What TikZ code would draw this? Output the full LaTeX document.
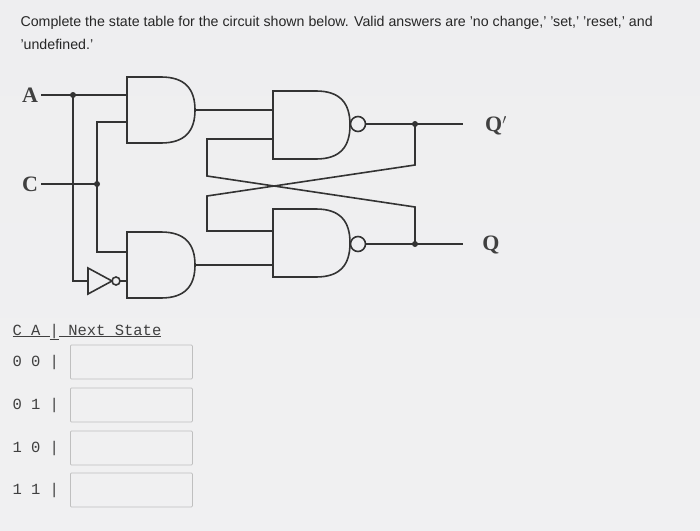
\documentclass[tikz,border=0pt]{standalone}
\usepackage{fontspec}
\setmainfont{Liberation Sans}
\newfontfamily\monof{Liberation Mono}
\newfontfamily\serifb{Liberation Serif}
\begin{document}
\begin{tikzpicture}[x=1pt,y=-1pt,
 wire/.style={draw=black!80,line width=1.6pt},
 gate/.style={draw=black!80,line width=1.6pt,fill=none},
 jdot/.style={circle,fill=black!80,inner sep=0pt,minimum size=6pt},
 lbl/.style={font=\serifb\bfseries\fontsize{22}{22}\selectfont,text=black!75},
 mono/.style={font=\monof\fontsize{15.5}{15.5}\selectfont,text=black!75,anchor=west},
 ansbox/.style={draw=black!25,line width=0.8pt,rounded corners=1pt,minimum width=122pt,minimum height=34pt,anchor=west}]
\useasboundingbox (0,0) rectangle (700,530);
\shade[top color=white!92!blue!40!gray!20, bottom color=white!90!blue!30!gray!15] (0,0) rectangle (700,530);
\node[anchor=west,font=\fontsize{14.2}{14.2}\selectfont,text=black!85] (t1) at (17,23) {Complete the state table for the circuit shown below. Valid answers are 'no change,' 'set,' 'reset,' and};
\node[anchor=west,font=\fontsize{14.2}{14.2}\selectfont,text=black!85] (t2) at (17,44) {'undefined.'};
% gates: x, y, height, width
\newcommand{\andg}[4]{\draw[gate] (#1,#2) -- (#1+#4-34,#2) .. controls (#1+#4-10,#2) and (#1+#4,#2+12) .. (#1+#4,#2+#3/2) .. controls (#1+#4,#2+#3-12) and (#1+#4-10,#2+#3) .. (#1+#4-34,#2+#3) -- (#1,#2+#3) -- cycle;}
\andg{127}{77}{66}{68}
\andg{127}{232}{66}{68}
\andg{273}{91}{68}{77}
\andg{273}{209}{68}{77}
\draw[gate] (358,124) circle (7.5);
\draw[gate] (358,244) circle (7.5);
% inverter
\draw[gate] (88,268) -- (112,281) -- (88,294) -- cycle;
\draw[gate] (116,281) circle (4);
% labels
\node[lbl] (A) at (30,95) {A};
\node[lbl] (C) at (30,184) {C};
\node[lbl] (Qp) at (496,126) {Q$'$};
\node[lbl] (Q) at (491,245) {Q};
\coordinate (dA) at (73,95);
\coordinate (dC) at (97,184);
\coordinate (dQp) at (415,124);
\coordinate (dQ) at (415,244);
\draw[wire] (A.east) -- (127,95);
\draw[wire] (dA) -- (73,281) -- (88,281);
\draw[wire] (120,281) -- (127,281);
\draw[wire] (C.east) -- (dC);
\draw[wire] (127,122) -- (97,122) -- (97,252) -- (127,252);
\draw[wire] (195,110) -- (273,110);
\draw[wire] (195,265) -- (273,265);
\draw[wire] (366,124) -- (463,124);
\draw[wire] (366,244) -- (463,244);
\draw[wire] (273,139) -- (207,139) -- (207,176) -- (415,207) -- (dQ);
\draw[wire] (dQp) -- (415,165) -- (207,196) -- (207,231) -- (273,231);
\foreach \p in {dA,dC,dQp,dQ} \node[jdot] at (\p) {};
% table
\node[mono] (h1) at (9,332) {\underline{C A }\underline{|}\underline{ Next State}};
\foreach \r/\a/\b [count=\i] in {362/0/0,405/0/1,448/1/0,490/1/1} {
 \node[mono] (r\i) at (9,\r) {\a{} \b{} |};
 \node[ansbox] (b\i) at (70,\r) {};
}
\end{tikzpicture}
\end{document}
